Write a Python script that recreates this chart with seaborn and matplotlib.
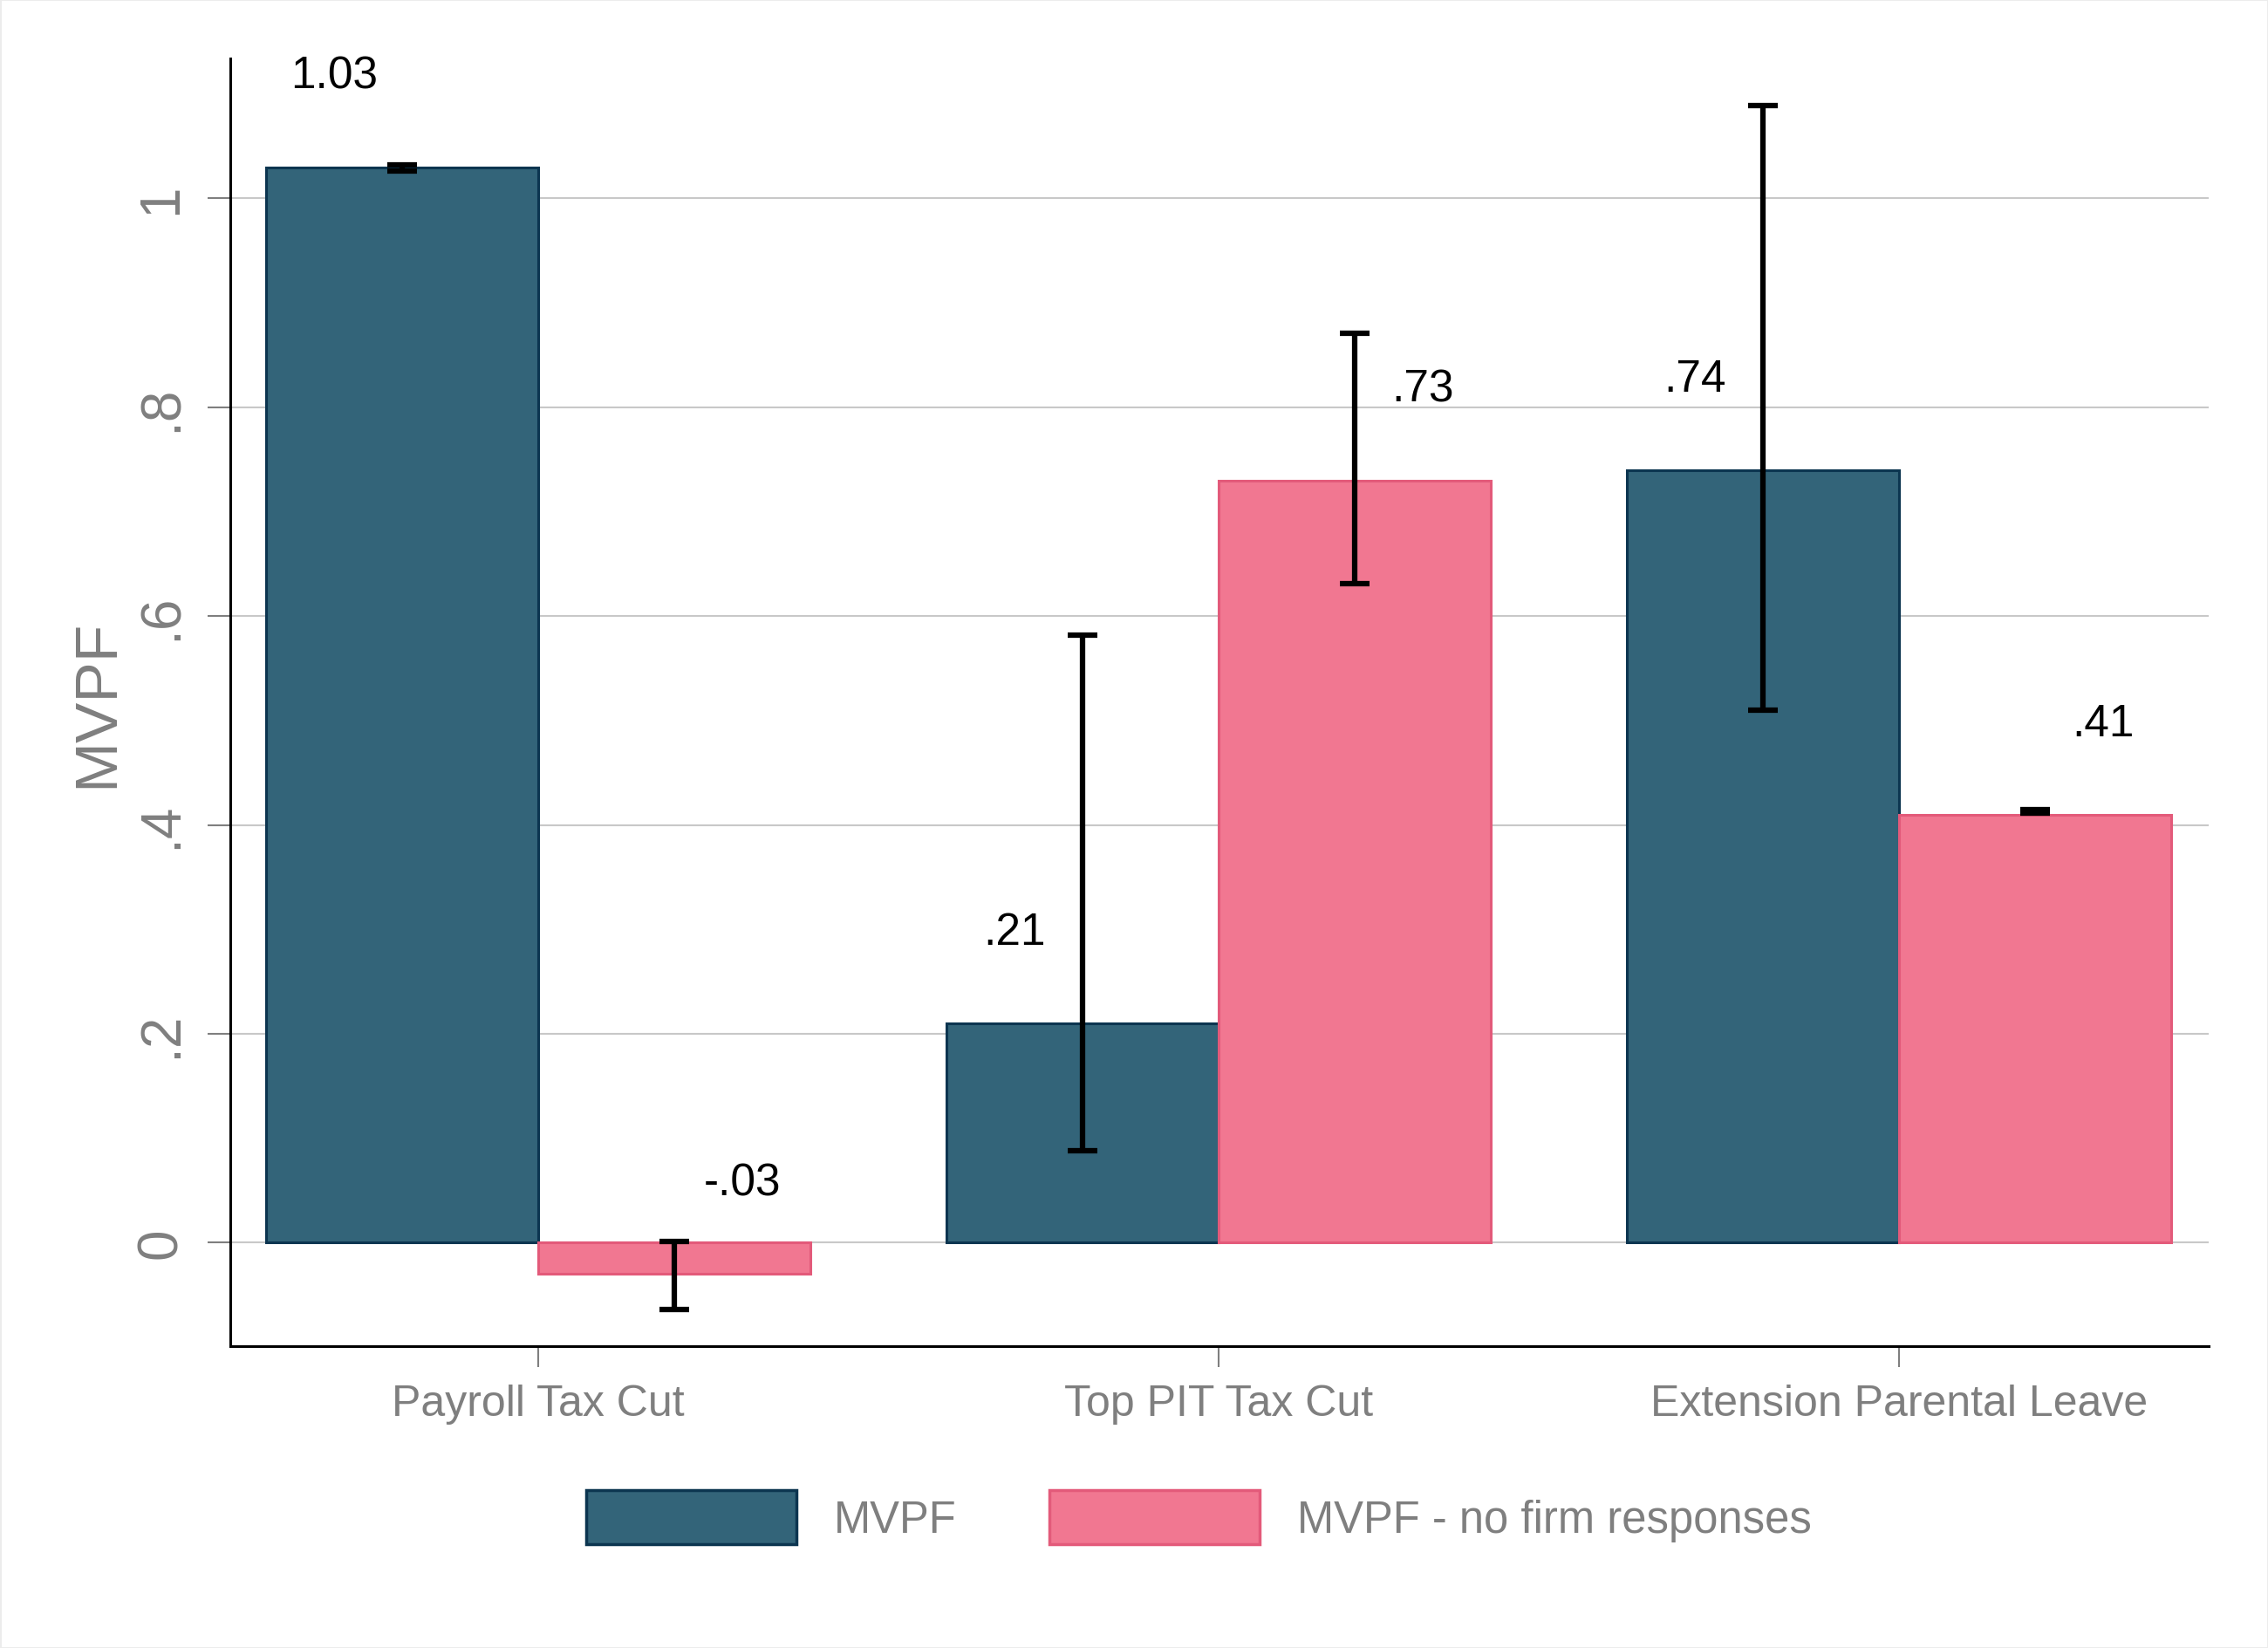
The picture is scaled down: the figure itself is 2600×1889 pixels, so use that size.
import matplotlib
matplotlib.use('Agg')
import matplotlib.pyplot as plt
import matplotlib.patches as mpatches
import numpy as np
import pandas as pd
import seaborn as sns

# data
policies = ['Payroll Tax Cut', 'Top PIT Tax Cut', 'Extension Parental Leave']
series = ['MVPF', 'MVPF - no firm responses']
mvpf = [1.03, 0.21, 0.74]
mvpf_lo = [1.026, 0.088, 0.510]
mvpf_hi = [1.032, 0.582, 1.089]
mvpf_nofirm = [-0.03, 0.73, 0.41]
nofirm_lo = [-0.064, 0.631, 0.411]
nofirm_hi = [0.001, 0.871, 0.415]
value_labels = [['1.03', '.21', '.74'], ['-.03', '.73', '.41']]
ytick_vals = [0, 0.2, 0.4, 0.6, 0.8, 1.0]
ytick_labels = ['0', '.2', '.4', '.6', '.8', '1']

fill_colors = ['#336479', '#f17791']
edge_colors = ['#0c3550', '#e35a7a']
grey = '#7f7f7f'

df = pd.DataFrame({
    'policy': policies * 2,
    'series': [series[0]] * 3 + [series[1]] * 3,
    'value': mvpf + mvpf_nofirm,
})

sns.set_style('white')
plt.rcParams['font.family'] = ['Liberation Sans', 'DejaVu Sans']

fig, ax = plt.subplots(figsize=(26, 18.9), dpi=100)
fig.subplots_adjust(left=0.1015, right=0.9738, bottom=0.1831, top=0.964)

sns.barplot(data=df, x='policy', y='value', hue='series', order=policies,
            hue_order=series, palette=fill_colors, saturation=1, errorbar=None,
            width=0.8, legend=False, ax=ax, zorder=2)

lows = [mvpf_lo, nofirm_lo]
highs = [mvpf_hi, nofirm_hi]
vals = [mvpf, mvpf_nofirm]
offsets = [-0.1, 0.1]
bar_conts = list(ax.containers)
for k, cont in enumerate(bar_conts):
    xs = []
    for bar in cont.patches:
        bar.set_edgecolor(edge_colors[k])
        bar.set_linewidth(2.2)
        xs.append(bar.get_x() + bar.get_width() / 2)
    xs = np.array(xs)
    v = np.array(vals[k])
    lo = np.array(lows[k])
    hi = np.array(highs[k])
    mid = (lo + hi) / 2
    ax.errorbar(xs, mid, yerr=(hi - lo) / 2, fmt='none', ecolor='black',
                elinewidth=4.5, capsize=12, capthick=4.5, zorder=4)
    for j in range(len(xs)):
        ax.text(xs[j] + offsets[k], v[j] + 0.087, value_labels[k][j],
                ha='center', va='center', fontsize=37, color='black', zorder=5)

ax.set_xlim(-0.4526, 2.455)
ax.set_ylim(-0.099, 1.134)
ax.set_yticks(ytick_vals)
ax.set_yticklabels(ytick_labels, rotation=90, va='center')
ax.yaxis.grid(True, color='#c8c8c8', linewidth=1.5, zorder=0)
ax.set_axisbelow(True)

ax.tick_params(axis='y', labelsize=46, colors=grey, length=19, width=1.5,
               pad=16, direction='out', left=True)
ax.tick_params(axis='x', labelsize=36, colors=grey, length=17, width=1.5,
               pad=14, direction='out', bottom=True)
for lab in ax.get_yticklabels() + ax.get_xticklabels():
    lab.set_color(grey)

ax.set_xlabel('')
ax.set_ylabel('MVPF', fontsize=50, color=grey, labelpad=9)

for side in ['top', 'right']:
    ax.spines[side].set_visible(False)
for side in ['left', 'bottom']:
    ax.spines[side].set_color('black')
    ax.spines[side].set_linewidth(2.2)

handles = [mpatches.Patch(facecolor=fill_colors[i], edgecolor=edge_colors[i],
                          linewidth=2.5, label=series[i]) for i in range(2)]
leg = fig.legend(handles=handles, loc='center', bbox_to_anchor=(0.5287, 0.0794),
                 ncol=2, frameon=False, fontsize=36.5, handlelength=4.75,
                 handleheight=1.5, handletextpad=0.85, columnspacing=2.1)
for t in leg.get_texts():
    t.set_color(grey)

fig.patch.set_edgecolor('#ececec')
fig.patch.set_linewidth(2)

fig.savefig('out.png', dpi=100, edgecolor=fig.get_edgecolor())
